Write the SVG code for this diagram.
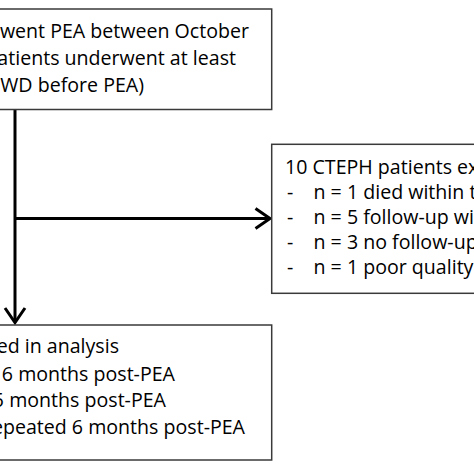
<svg xmlns="http://www.w3.org/2000/svg" width="474" height="474" viewBox="0 0 474 474">
<defs>
<style>
.box{fill:#fff;stroke:#3a3a3a;stroke-width:1.5}
.t{font-family:"Open Sans","Noto Sans",sans-serif;font-size:19.6px;fill:#000}
.e{text-anchor:end}
.ln{fill:none;stroke:#000;stroke-width:3}
.ah{fill:none;stroke:#000;stroke-width:3;stroke-linejoin:miter;stroke-linecap:butt}
</style>
</defs>
<rect width="474" height="474" fill="#fff"/>
<g id="connectors">
<line class="ln" x1="15" y1="109.5" x2="15" y2="321"/>
<line class="ln" x1="15" y1="218.5" x2="268" y2="218.5"/>
<polyline class="ah" points="5,308 15,322.5 25,308"/>
<polyline class="ah" points="255.5,208.5 270,218.5 255.5,228.5"/>
</g>
<g id="node-source">
<rect class="box" x="-5" y="9" width="276.7" height="100.5"/>
<text class="t e" x="249" y="37.5">went PEA between October</text>
<text class="t e" x="236" y="64.5">atients underwent at least</text>
<text class="t e" x="144" y="91.5">WD before PEA)</text>
</g>
<g id="node-excluded">
<rect class="box" x="271.7" y="144.3" width="220" height="149"/>
<text class="t" x="285" y="173.5">10 CTEPH patients ex</text>
<text class="t" y="198.5"><tspan x="287">-</tspan><tspan x="313.5">n = 1 died within t</tspan></text>
<text class="t" y="223.5"><tspan x="287">-</tspan><tspan x="313.5">n = 5 follow-up wi</tspan></text>
<text class="t" y="248.5"><tspan x="287">-</tspan><tspan x="313.5">n = 3 no follow-up</tspan></text>
<text class="t" y="273.5"><tspan x="287">-</tspan><tspan x="313.5">n = 1 poor quality</tspan></text>
</g>
<g id="node-included">
<rect class="box" x="-5" y="325" width="276.7" height="135"/>
<text class="t e" x="119" y="353">ed in analysis</text>
<text class="t e" x="175" y="380.5">6 months post-PEA</text>
<text class="t e" x="166" y="407">5 months post-PEA</text>
<text class="t e" x="245" y="434">epeated 6 months post-PEA</text>
</g>
</svg>
